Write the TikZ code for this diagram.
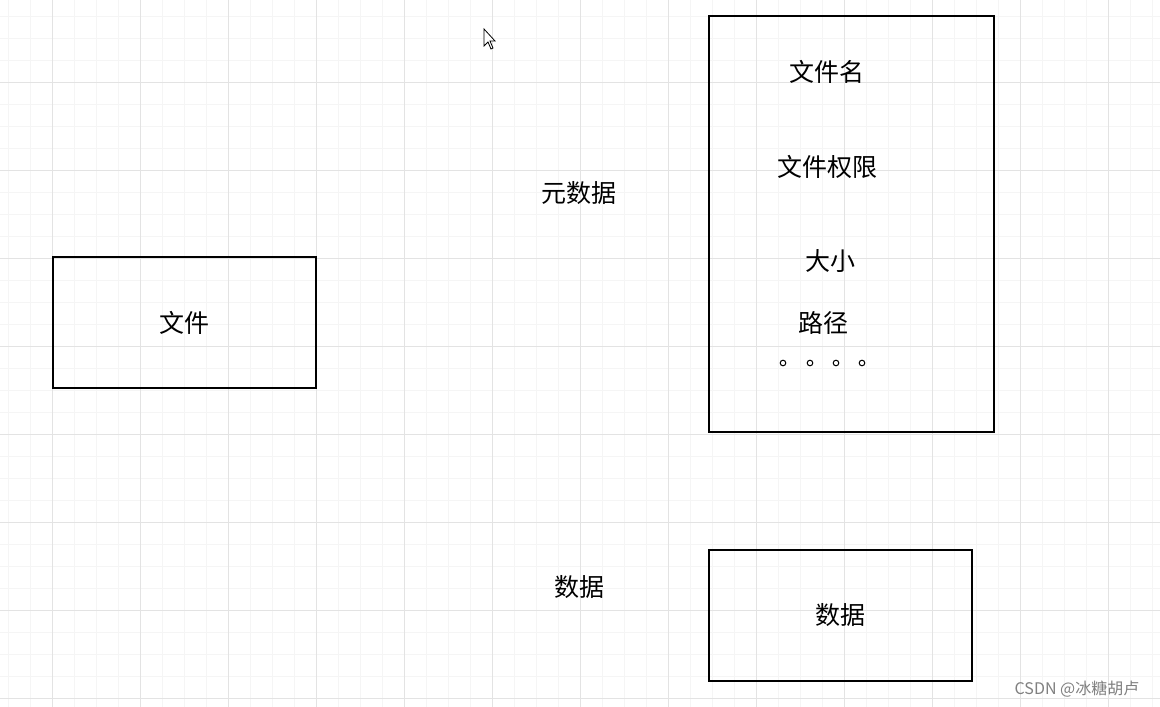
\documentclass[tikz,border=0pt]{standalone}
\usepackage{fontspec}
\newfontfamily\cjk{Noto Sans CJK SC}
\begin{document}
\begin{tikzpicture}[x=1pt,y=-1pt,
  box/.style={draw=black,line width=2pt},
  lbl/.style={font=\cjk\fontsize{25}{28}\selectfont,inner sep=0pt}]
\useasboundingbox (0,0) rectangle (1160,707);
\fill[white] (0,0) rectangle (1160,707);
\foreach \x in {8,30,...,1160} \draw[black!4,line width=1pt] (\x,0) -- (\x,707);
\foreach \y in {16,38,...,707} \draw[black!4,line width=1pt] (0,\y) -- (1160,\y);
\foreach \x in {52,140,...,1160} \draw[black!11,line width=1pt] (\x,0) -- (\x,707);
\foreach \y in {82,170,...,707} \draw[black!11,line width=1pt] (0,\y) -- (1160,\y);
\node[box,minimum width=263,minimum height=131,lbl] (file) at (184.5,322.5) {文件};
\node[box,minimum width=285,minimum height=416] (meta) at (851.5,224) {};
\node[box,minimum width=263,minimum height=131,lbl] (data) at (840.5,615.5) {数据};
\node[lbl] (n1) at (827,72) {文件名};
\node[lbl] (n2) at (827,167) {文件权限};
\node[lbl] (n3) at (830,261) {大小};
\node[lbl] (n4) at (823,323) {路径};
\foreach \x in {783,810,836,862} \draw[line width=1pt] (\x,363) circle (2.8);
\node[lbl] (m) at (579,193) {元数据};
\node[lbl] (d) at (579,587) {数据};
\node[font=\cjk\fontsize{16}{18}\selectfont,text=black!50,inner sep=0pt] (wm) at (1077,689) {CSDN @冰糖胡卢};
\draw[fill=white,line width=0.8pt] (484,29) -- (484,46) -- (488,42) -- (491,49) -- (493,48) -- (490,41) -- (495,41) -- cycle;
\end{tikzpicture}
\end{document}
